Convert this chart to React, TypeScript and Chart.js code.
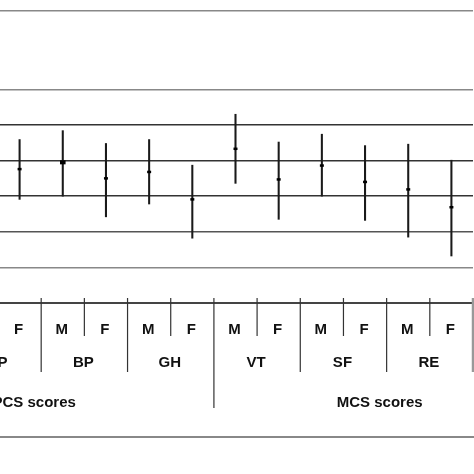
import { useEffect, useRef } from 'react';
import { Chart, registerables } from 'chart.js';

Chart.register(...registerables);

// SF-36 subscales, men and women; only RP-F .. RE-F are visible in the crop
const subscales = ['PF', 'PF', 'RP', 'RP', 'BP', 'BP', 'GH', 'GH', 'VT', 'VT', 'SF', 'SF', 'RE', 'RE', 'MH', 'MH'];
const sexes = ['M', 'F', 'M', 'F', 'M', 'F', 'M', 'F', 'M', 'F', 'M', 'F', 'M', 'F', 'M', 'F'];
const summaries = [
  'PCS scores', 'PCS scores', 'PCS scores', 'PCS scores', 'PCS scores', 'PCS scores', 'PCS scores', 'PCS scores',
  'MCS scores', 'MCS scores', 'MCS scores', 'MCS scores', 'MCS scores', 'MCS scores', 'MCS scores', 'MCS scores',
];
const means = [null, null, null, 57.6, 59.5, 55.0, 56.8, 49.1, 63.3, 54.7, 58.6, 54.0, 51.9, 46.9, null, null];
const upper = [null, null, null, 65.9, 68.4, 64.8, 65.9, 58.7, 73.0, 65.2, 67.4, 64.2, 64.6, 60.1, null, null];
const lower = [null, null, null, 49.1, 50.0, 44.2, 47.8, 38.2, 53.6, 43.5, 50.0, 43.2, 38.5, 33.2, null, null];
const gridValues = [20, 30, 40, 50, 60, 70, 80];
const yMin = 20;
const yMax = 102;
const firstShown = 3;
const lastShown = 13;

const labels = subscales.map((s, i) => `${s} ${sexes[i]}`);

const FONT = 'bold 15px "Liberation Sans", Arial, sans-serif';

const axisLabels = {
  id: 'axisLabels',
  afterDraw(chart: Chart) {
    const ctx = chart.ctx;
    const x = chart.scales.x;
    const base = chart.chartArea.bottom;
    ctx.save();

    // dividers under the axis
    for (let i = -1; i < subscales.length; i++) {
      const a = i;
      const b = i + 1;
      let len = 38;
      if (a < 0 || b >= subscales.length || summaries[a] !== summaries[b]) len = 110;
      else if (subscales[a] !== subscales[b]) len = 74;
      const px = x.getPixelForValue(i + 0.5);
      if (i === lastShown) {
        ctx.strokeStyle = '#999';
        ctx.lineWidth = 2.5;
      } else {
        ctx.strokeStyle = '#333';
        ctx.lineWidth = 1.2;
      }
      ctx.beginPath();
      ctx.moveTo(px, base - 5);
      ctx.lineTo(px, base - 5 + len);
      ctx.stroke();
    }

    ctx.fillStyle = '#111';
    ctx.font = FONT;
    ctx.textAlign = 'center';
    ctx.textBaseline = 'middle';

    sexes.forEach((s, i) => {
      ctx.fillText(s, x.getPixelForValue(i) - 1, base + 27);
    });

    const drawGroups = (names: string[], y: number, shift: number) => {
      let start = 0;
      for (let i = 1; i <= names.length; i++) {
        if (i === names.length || names[i] !== names[start]) {
          const cx = (x.getPixelForValue(start) + x.getPixelForValue(i - 1)) / 2;
          ctx.fillText(names[start], cx + shift, y);
          start = i;
        }
      }
    };
    drawGroups(subscales, base + 60, -1);
    drawGroups(summaries, base + 100, -7);

    // bottom frame
    ctx.strokeStyle = '#888';
    ctx.lineWidth = 2;
    ctx.beginPath();
    ctx.moveTo(0, base + 134);
    ctx.lineTo(chart.width, base + 134);
    ctx.stroke();
    ctx.restore();
  },
};

const gridColor = (v: number) => {
  if (v === yMax || v === 80) return '#888';
  if (v === 30) return '#888';
  if (v === 40) return '#555';
  return '#333';
};

export default function App() {
  const canvasRef = useRef<HTMLCanvasElement | null>(null);

  useEffect(() => {
    if (!canvasRef.current) return;
    const chart = new Chart(canvasRef.current, {
      type: 'bar',
      data: {
        labels,
        datasets: [
          {
            type: 'line',
            data: means,
            showLine: false,
            pointStyle: 'line',
            pointRadius: means.map((_, i) => (i === 4 ? 2.8 : 2)),
            pointBorderWidth: means.map((_, i) => (i === 4 ? 4 : 2.5)),
            pointBorderColor: '#000',
            borderColor: '#000',
            order: 0,
          },
          {
            type: 'bar',
            data: means.map((_, i) => (lower[i] == null ? null : [lower[i], upper[i]])),
            backgroundColor: '#1a1a1a',
            borderWidth: 0,
            barThickness: 1.4,
            order: 1,
          },
        ] as any,
      },
      options: {
        animation: false,
        responsive: true,
        maintainAspectRatio: false,
        layout: { autoPadding: false, padding: { top: 11, left: 0, right: 1, bottom: 0 } },
        plugins: { legend: { display: false }, tooltip: { enabled: false } },
        scales: {
          x: {
            type: 'category',
            min: firstShown,
            max: lastShown,
            offset: true,
            ticks: { display: false },
            grid: { display: false, drawTicks: false },
            border: { display: true, color: '#444', width: 2 },
            afterFit: (scale: any) => {
              scale.height = 171;
            },
          },
          y: {
            min: yMin,
            max: yMax,
            ticks: { display: false },
            grid: {
              drawTicks: false,
              lineWidth: 1.5,
              color: (c: any) => gridColor(c.tick ? c.tick.value : 0),
            },
            border: { display: false },
            afterBuildTicks: (scale: any) => {
              scale.ticks = [...gridValues, yMax].map((v) => ({ value: v }));
            },
            afterFit: (scale: any) => {
              scale.width = 0;
            },
          },
        },
      },
      plugins: [axisLabels],
    });
    return () => {
      chart.destroy();
    };
  }, []);

  return (
    <div style={{ position: 'fixed', left: -2, top: 0, width: 476, height: 474, background: '#fff' }}>
      <canvas ref={canvasRef}></canvas>
    </div>
  );
}
